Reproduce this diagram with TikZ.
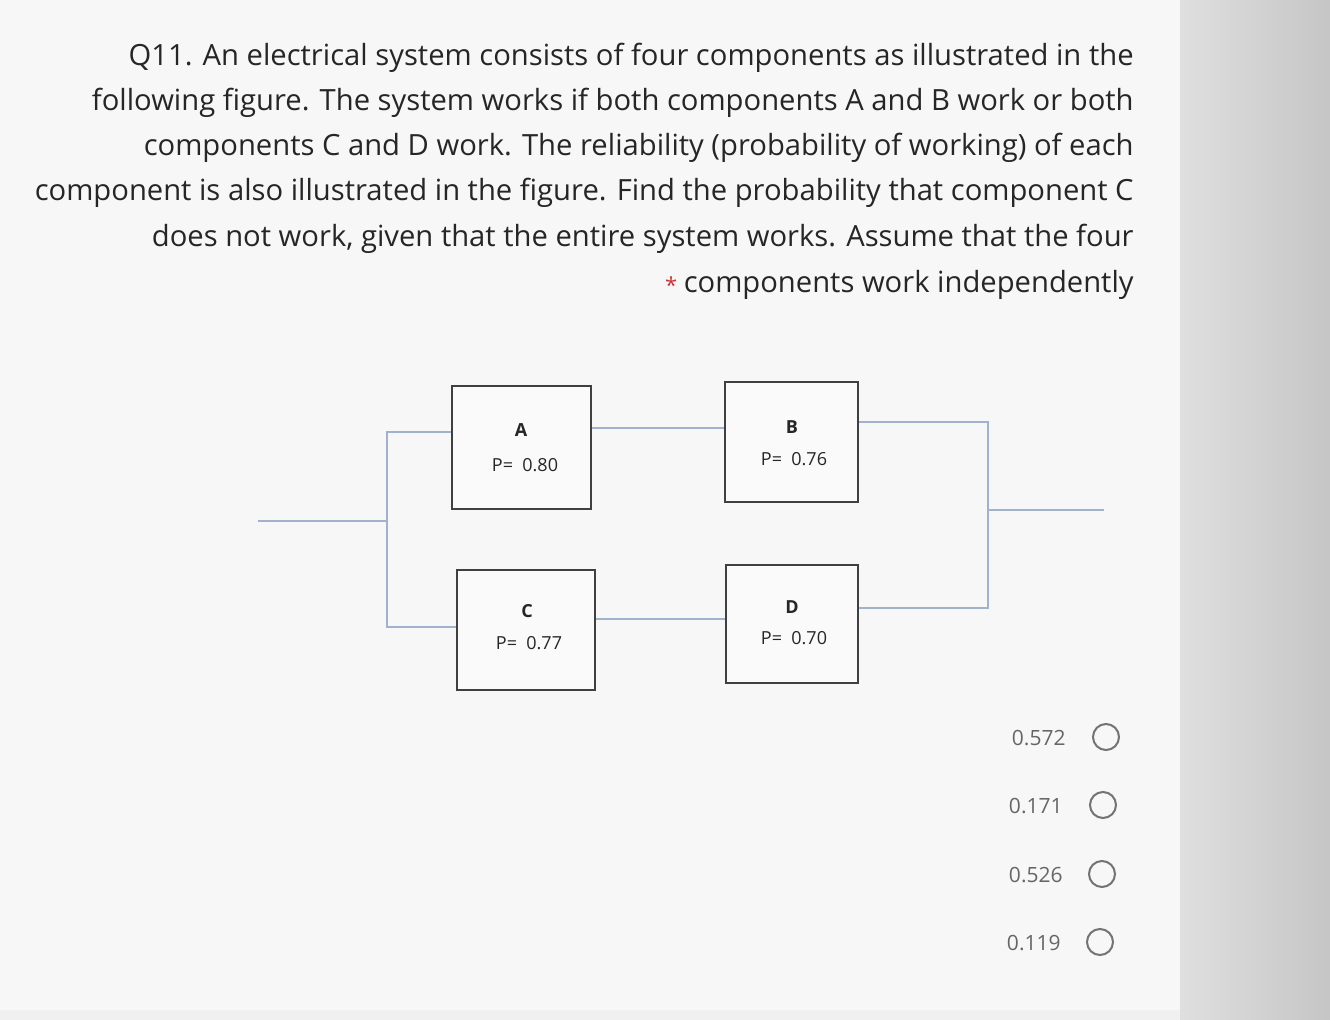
\documentclass[tikz,border=0pt]{standalone}
\usepackage{fontspec}
\setmainfont{Open Sans}
\begin{document}
\begin{tikzpicture}[x=0.5pt,y=-0.5pt,
  q/.style={anchor=east,inner sep=0pt,font=\fontsize{14.6}{17}\selectfont,text=black!85},
  comp/.style={draw=black!75,line width=1pt,fill=white!96!gray,inner sep=0pt},
  wire/.style={draw={rgb,255:red,160;green,178;blue,205},line width=1.1pt},
  lbl/.style={inner sep=0pt,font=\fontsize{9}{10}\selectfont,text=black!85},
  lblb/.style={inner sep=0pt,font=\bfseries\fontsize{9}{10}\selectfont,text=black!85},
  opt/.style={anchor=east,inner sep=0pt,font=\fontsize{10.5}{12}\selectfont,text=black!60},
  rad/.style={circle,draw=black!55,line width=1pt,minimum size=13pt,inner sep=0pt}]
\useasboundingbox (0,0) rectangle (1330,1020);
\fill[gray!12] (0,0) rectangle (1330,1020);
\fill[gray!6] (0,0) rectangle (1180,1010);
\shade[left color=gray!25,right color=gray!45] (1180,0) rectangle (1330,1020);
\node[q] (l1) at (1134,58) {Q11. An electrical system consists of four components as illustrated in the};
\node[q] (l2) at (1134,103) {following figure. The system works if both components A and B work or both};
\node[q] (l3) at (1134,148) {components C and D work. The reliability (probability of working) of each};
\node[q] (l4) at (1134,193) {component is also illustrated in the figure. Find the probability that component C};
\node[q] (l5) at (1134,239) {does not work, given that the entire system works. Assume that the four};
\node[q] (l6) at (1134,285) {components work independently};
\node[anchor=east,text=red!60!gray,font=\fontsize{11}{12}\selectfont,inner sep=0pt] (star) at (l6.west) {*\ \ };
\node[comp,minimum width=69.5pt,minimum height=61.5pt] (A) at (521.5,447.5) {};
\node[comp,minimum width=66.5pt,minimum height=60pt] (B) at (791.5,442) {};
\node[comp,minimum width=69pt,minimum height=60pt] (C) at (526,630) {};
\node[comp,minimum width=66pt,minimum height=59pt] (D) at (792,624) {};
\node[lblb] (at) at (521,430) {A};
\node[lbl] (ap) at (525,465) {P=\ \ 0.80};
\node[lblb] (bt) at (792,427) {B};
\node[lbl] (bp) at (794,459) {P=\ \ 0.76};
\node[lblb] (ct) at (527,611) {C};
\node[lbl] (cp) at (529,643) {P=\ \ 0.77};
\node[lblb] (dt) at (792,607) {D};
\node[lbl] (dp) at (794,638) {P=\ \ 0.70};
\coordinate (in) at (258,521);
\coordinate (jl) at (387,521);
\coordinate (jr) at (988,510);
\coordinate (out) at (1104,510);
\draw[wire] (in) -- (jl);
\draw[wire] (jl) |- (A.west |- 0,432);
\draw[wire] (jl) |- (C.west |- 0,627);
\draw[wire] (A.east |- 0,428) -- (B.west |- 0,428);
\draw[wire] (C.east |- 0,619) -- (D.west |- 0,619);
\draw[wire] (B.east |- 0,422) -| (jr);
\draw[wire] (D.east |- 0,608) -| (jr);
\draw[wire] (jr) -- (out);
\node[opt] (o1) at (1066,738) {0.572};
\node[rad] (r1) at (1106,737) {};
\node[opt] (o2) at (1063,806) {0.171};
\node[rad] (r2) at (1103,805) {};
\node[opt] (o3) at (1063,875) {0.526};
\node[rad] (r3) at (1102,874) {};
\node[opt] (o4) at (1061,943) {0.119};
\node[rad] (r4) at (1100,942) {};
\end{tikzpicture}
\end{document}
